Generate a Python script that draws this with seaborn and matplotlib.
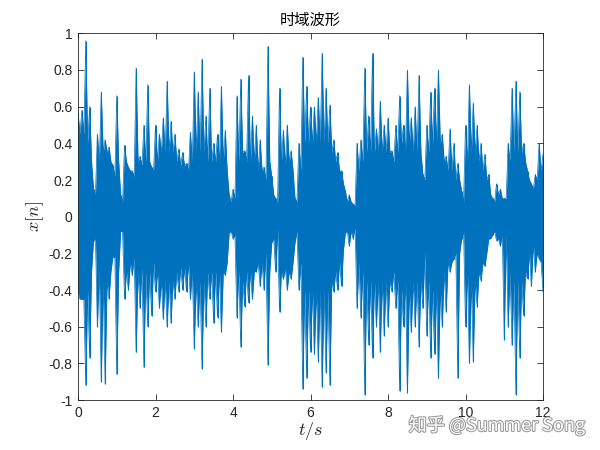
import numpy as np
import pandas as pd
import matplotlib
matplotlib.use("Agg")
import matplotlib.pyplot as plt
import matplotlib.patheffects as pe
import seaborn as sns

# envelope of the waveform, one value every 0.1 s (0 .. 12 s)
t_env = np.round(np.arange(0, 121) * 0.1, 1)

x_upper = [
    0.57, 0.58, 0.96, 0.60, 0.15, 0.45, 0.68, 0.42, 0.38, 0.28,
    0.66, 0.12, 0.39, 0.27, 0.25, 0.81, 0.33, 0.50, 0.72, 0.27,
    0.50, 0.45, 0.54, 0.74, 0.52, 0.45, 0.37, 0.35, 0.29, 0.46,
    0.79, 0.68, 0.86, 0.55, 0.70, 0.40, 0.45, 0.71, 0.47, 0.12,
    0.15, 0.66, 0.75, 0.36, 0.77, 0.55, 0.50, 0.42, 0.27, 0.93,
    0.22, 0.10, 0.70, 0.47, 0.50, 0.36, 0.10, 0.40, 0.87, 0.71,
    0.60, 0.60, 0.65, 0.89, 0.70, 0.61, 0.42, 0.35, 0.25, 0.14,
    0.12, 0.07, 0.40, 0.42, 0.81, 0.55, 0.89, 0.48, 0.63, 0.50,
    0.54, 0.36, 0.50, 0.66, 0.50, 0.80, 0.54, 0.60, 0.77, 0.23,
    0.50, 0.68, 0.70, 0.80, 0.45, 0.33, 0.48, 0.40, 0.29, 0.14,
    0.50, 0.72, 0.62, 0.50, 0.40, 0.34, 0.23, 0.10, 0.18, 0.15,
    0.10, 0.40, 0.70, 0.74, 0.68, 0.40, 0.25, 0.18, 0.23, 0.40,
    0.34,
]

x_lower = [
    -0.41, -0.45, -0.92, -0.77, -0.13, -0.60, -0.90, -0.91, -0.45, -0.22,
    -0.86, -0.08, -0.45, -0.40, -0.32, -0.74, -0.50, -0.82, -0.60, -0.54,
    -0.41, -0.50, -0.56, -0.60, -0.58, -0.45, -0.41, -0.40, -0.41, -0.45,
    -0.72, -0.60, -0.83, -0.60, -0.45, -0.58, -0.55, -0.63, -0.32, -0.09,
    -0.12, -0.55, -0.71, -0.49, -0.47, -0.45, -0.30, -0.38, -0.40, -0.81,
    -0.14, -0.30, -0.52, -0.34, -0.40, -0.34, -0.14, -0.40, -0.94, -0.88,
    -0.74, -0.75, -0.79, -0.93, -0.85, -0.92, -0.41, -0.40, -0.38, -0.09,
    -0.16, -0.12, -0.50, -0.55, -0.97, -0.70, -0.77, -0.60, -0.74, -0.65,
    -0.60, -0.41, -0.50, -0.95, -0.60, -0.96, -0.63, -0.60, -0.71, -0.50,
    -0.65, -0.77, -0.75, -0.88, -0.60, -0.52, -0.30, -0.23, -0.88, -0.12,
    -0.60, -0.80, -0.79, -0.49, -0.35, -0.27, -0.12, -0.10, -0.13, -0.16,
    -0.67, -0.60, -0.70, -0.97, -0.77, -0.54, -0.34, -0.38, -0.30, -0.23,
    -0.41,
]

# dense solid body of the waveform (half height) between the peaks,
# read halfway between the envelope samples (t + 0.05 s)
x_body = [
    0.45, 0.45, 0.40, 0.30, 0.12, 0.30, 0.35, 0.35, 0.30, 0.22,
    0.30, 0.08, 0.30, 0.25, 0.22, 0.30, 0.28, 0.30, 0.30, 0.25,
    0.30, 0.35, 0.35, 0.35, 0.35, 0.30, 0.28, 0.28, 0.25, 0.30,
    0.35, 0.35, 0.35, 0.30, 0.30, 0.30, 0.30, 0.30, 0.25, 0.08,
    0.10, 0.30, 0.35, 0.30, 0.30, 0.30, 0.25, 0.25, 0.20, 0.30,
    0.12, 0.07, 0.30, 0.28, 0.30, 0.25, 0.08, 0.25, 0.40, 0.40,
    0.40, 0.40, 0.40, 0.40, 0.40, 0.35, 0.30, 0.25, 0.18, 0.08,
    0.08, 0.06, 0.25, 0.30, 0.35, 0.35, 0.35, 0.35, 0.35, 0.35,
    0.35, 0.30, 0.35, 0.40, 0.35, 0.40, 0.35, 0.35, 0.35, 0.20,
    0.35, 0.40, 0.40, 0.40, 0.30, 0.25, 0.25, 0.20, 0.20, 0.08,
    0.30, 0.35, 0.35, 0.30, 0.25, 0.20, 0.12, 0.08, 0.12, 0.10,
    0.10, 0.30, 0.35, 0.35, 0.35, 0.30, 0.20, 0.15, 0.20, 0.25,
    0.30,
]

x_ticks = [0, 2, 4, 6, 8, 10, 12]
y_ticks = [-1, -0.8, -0.6, -0.4, -0.2, 0, 0.2, 0.4, 0.6, 0.8, 1]
y_ticklabels = ["-1", "-0.8", "-0.6", "-0.4", "-0.2", "0", "0.2", "0.4", "0.6", "0.8", "1"]

sns.set_theme(style="white")
plt.rcParams['font.family'] = ['Liberation Sans', 'Noto Sans CJK SC', 'DejaVu Sans']
plt.rcParams['mathtext.fontset'] = 'cm'

wave_color = '#0072BD'
axis_color = '#262626'

env = pd.DataFrame({'t': t_env, 'upper': x_upper, 'lower': x_lower, 'body': x_body})

# outline: peak at t, body level at t + 0.05, next peak ...
t_out = np.column_stack([env['t'], env['t'] + 0.05]).ravel()
up_out = np.column_stack([env['upper'], env['body']]).ravel()
lo_out = np.column_stack([env['lower'], -env['body']]).ravel()
outline = pd.DataFrame({'t': t_out, 'up': up_out, 'lo': lo_out})

fig = plt.figure(figsize=(6, 4.5), dpi=100)
ax = fig.add_axes([0.13, 0.111, 0.775, 0.815])

ax.fill_between(outline['t'], outline['lo'], outline['up'], color=wave_color, linewidth=0)
ax.vlines(env['t'], env['lower'], env['upper'], color=wave_color, linewidth=0.8)
sns.lineplot(data=outline, x='t', y='up', color=wave_color, linewidth=0.5, ax=ax)
sns.lineplot(data=outline, x='t', y='lo', color=wave_color, linewidth=0.5, ax=ax)

ax.set_xlim(0, 12)
ax.set_ylim(-1, 1)
ax.set_xticks(x_ticks)
ax.set_xticklabels([str(v) for v in x_ticks])
ax.set_yticks(y_ticks)
ax.set_yticklabels(y_ticklabels)
ax.set_xlabel('')
ax.set_ylabel('')
ax.tick_params(direction='in', length=4, width=0.6, colors=axis_color, labelsize=10,
               top=True, right=True, bottom=True, left=True, pad=4)
for s in ax.spines.values():
    s.set_color(axis_color)
    s.set_linewidth(0.6)
    s.set_visible(True)

ax.set_title('时域波形', fontsize=11, color='black', family=['Noto Sans CJK SC'], pad=6)
ax.set_xlabel(r'$t/s$', fontsize=13, color=axis_color, labelpad=0)
ax.set_ylabel(r'$x[n]$', fontsize=13, color=axis_color, labelpad=2)

fig.text(0.975, 0.055, '知乎 @Summer Song', ha='right', va='center', fontsize=13,
         color='white', family=['Noto Sans CJK SC', 'DejaVu Sans'],
         path_effects=[pe.withStroke(linewidth=1.5, foreground='#9a9a9a')])

fig.savefig('out.png', dpi=100)
